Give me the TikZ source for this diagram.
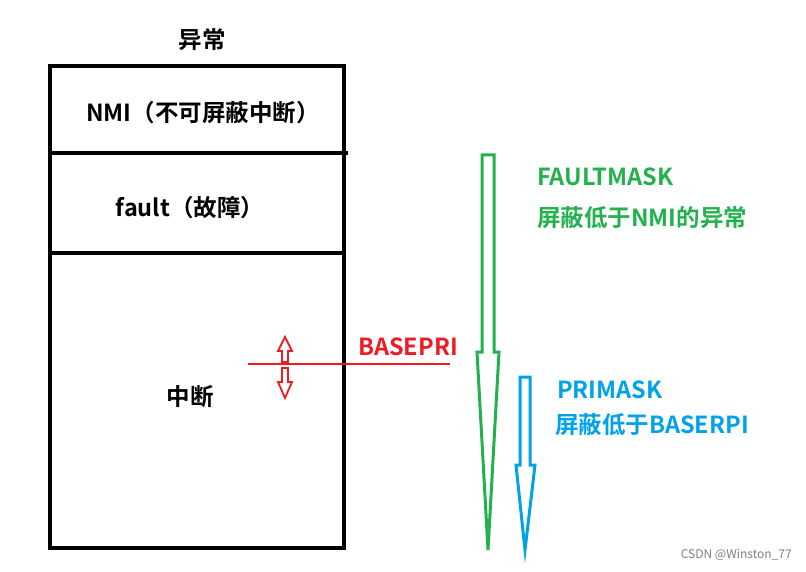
\documentclass[tikz,border=0pt]{standalone}
\usepackage{fontspec}
\setmainfont{Noto Sans CJK SC}[BoldFont={* Bold}]
\begin{document}
\begin{tikzpicture}[x=1pt,y=-1pt,
  lbl/.style={font=\fontsize{23.5}{26}\selectfont\bfseries,inner sep=0pt},
  blk/.style={line width=4pt,black}]
\definecolor{gc}{RGB}{34,177,76}
\definecolor{bc}{RGB}{0,162,232}
\definecolor{rc}{RGB}{237,28,36}
\useasboundingbox (0,0) rectangle (806,572);
\draw[blk] (50,66) rectangle (344,548);
\draw[blk] (50,153) -- (348,153);
\draw[blk] (50,253) -- (344,253);
\node[lbl] (t0) at (202,40) {异常};
\node[lbl] (t1) at (203,113) {NMI（不可屏蔽中断）};
\node[lbl] (t2) at (190,208) {fault（故障）};
\node[lbl] (t3) at (190,397) {中断};
% red
\draw[rc,line width=2.5pt] (248,364) -- (450,364);
\draw[rc,line width=1.8pt] (282,362) -- (282,351) -- (278,351) -- (285,337) -- (292,351) -- (288,351) -- (288,362) -- cycle;
\draw[rc,line width=1.8pt] (282,368) -- (282,382) -- (278,382) -- (285,398) -- (292,382) -- (288,382) -- (288,368) -- cycle;
\node[lbl,text=rc] (bp) at (408,347) {BASEPRI};
% green
\draw[gc,line width=3pt] (482,155) -- (494,155) -- (494,352) -- (499,352) -- (488,550) -- (477,352) -- (482,352) -- cycle;
\node[lbl,text=gc,anchor=west] (fm) at (537,177) {FAULTMASK};
\node[lbl,text=gc,anchor=west] (fm2) at (537,218) {屏蔽低于NMI的异常};
% blue
\draw[bc,line width=3pt] (520,377) -- (530,377) -- (530,465) -- (535,465) -- (525,550) -- (516,465) -- (520,465) -- cycle;
\node[lbl,text=bc,anchor=west] (pm) at (557,390) {PRIMASK};
\node[lbl,text=bc,anchor=west] (pm2) at (555,425) {屏蔽低于BASERPI};
\node[font=\fontsize{12}{14}\selectfont,text=gray,anchor=east,inner sep=0pt] (w) at (792,555) {CSDN @Winston\_77};
\end{tikzpicture}
\end{document}
